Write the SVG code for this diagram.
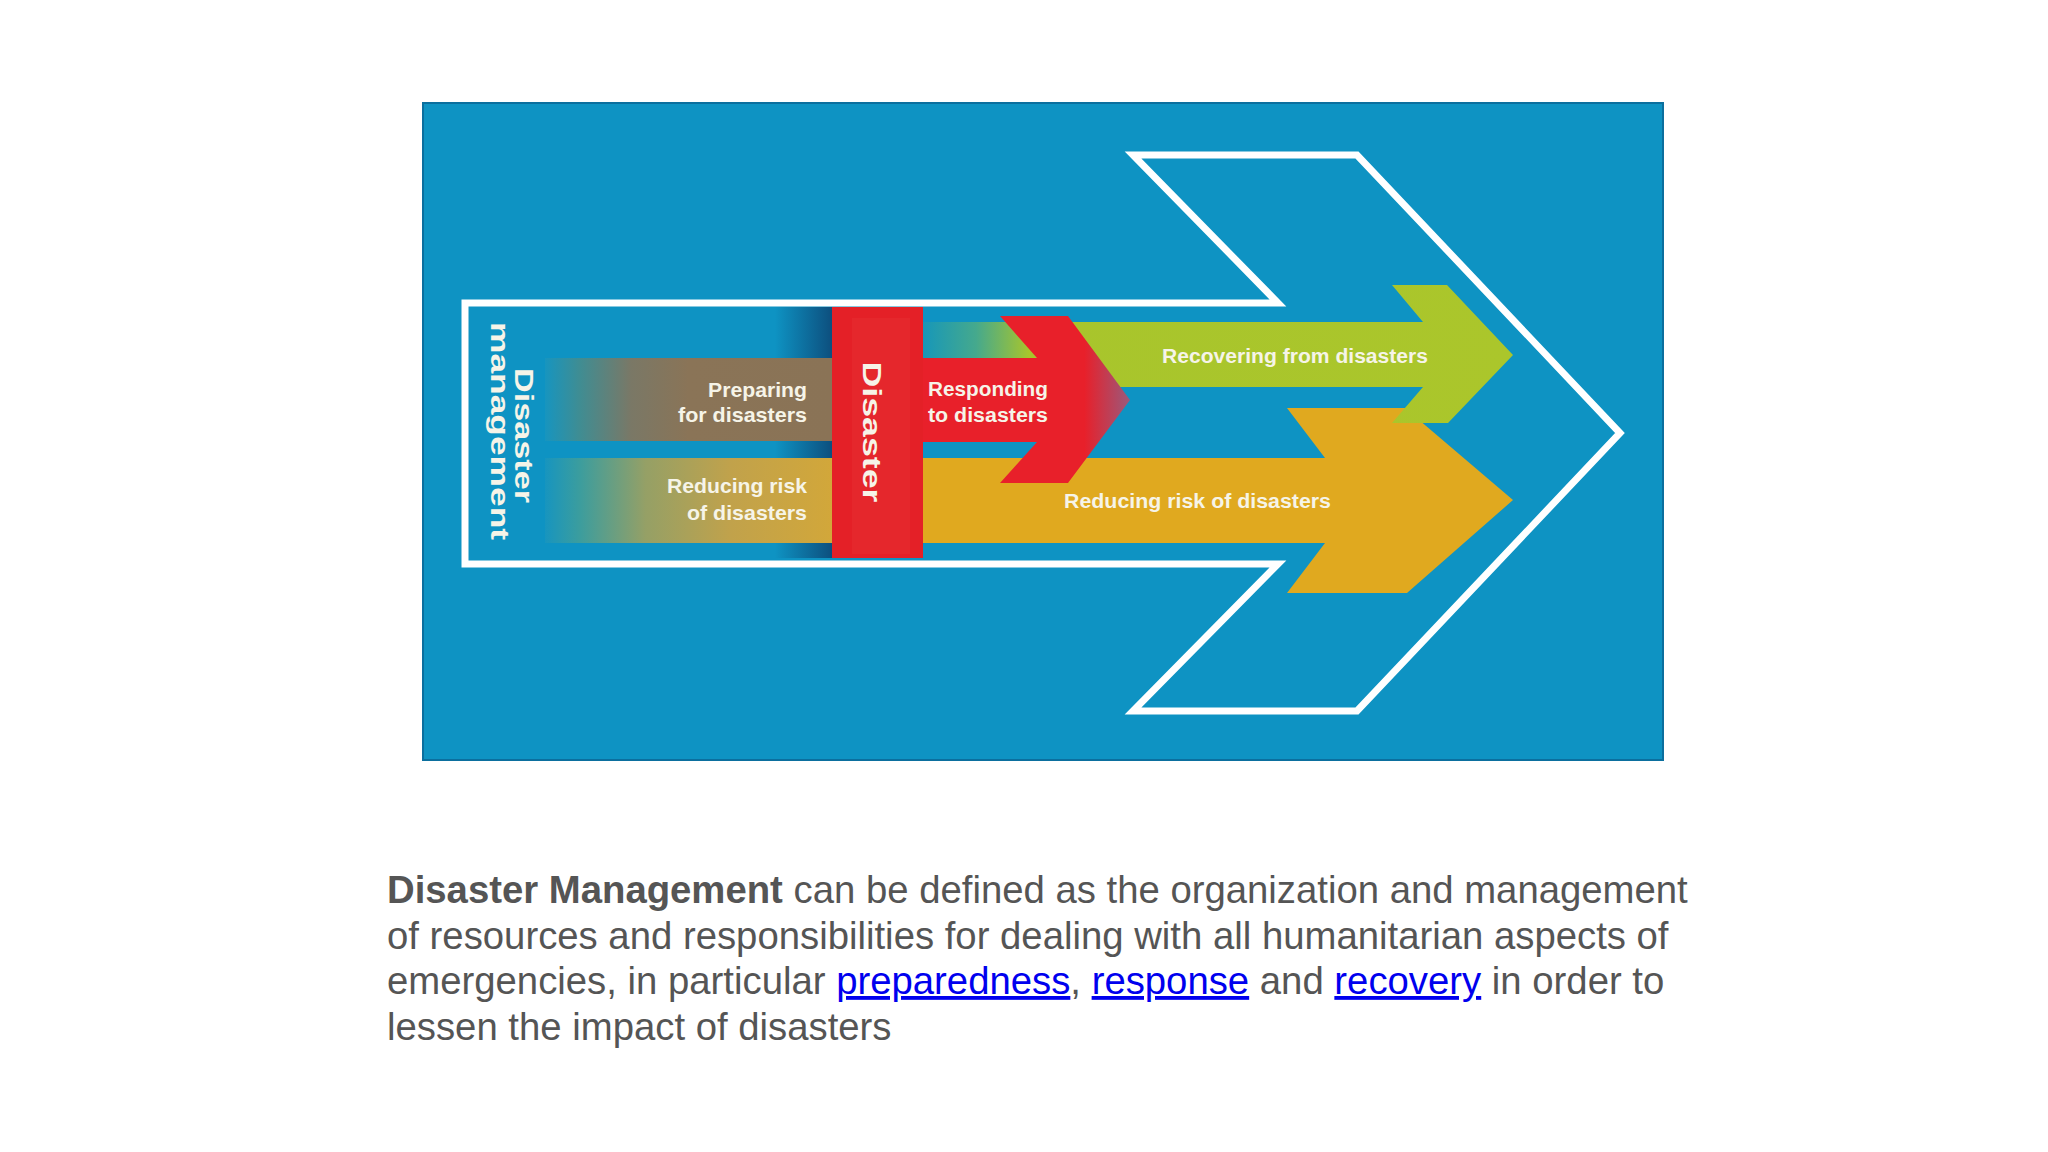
<svg xmlns="http://www.w3.org/2000/svg" width="2048" height="1152" viewBox="0 0 2048 1152">
  <defs>
    <style>
      .lbl { font-family: "Liberation Sans", Arial, sans-serif; font-weight: bold; fill: #f6f4e8; }
      .para { font-family: "Liberation Sans", Arial, sans-serif; font-size: 38.3px; fill: #555555; }
      .link { fill: #0000ee; text-decoration: underline; }
    </style>
    <linearGradient id="gBrown" x1="545" y1="0" x2="832" y2="0" gradientUnits="userSpaceOnUse">
      <stop offset="0" stop-color="#1795bf"/>
      <stop offset="0.12" stop-color="#3f8d93"/>
      <stop offset="0.3" stop-color="#7a7866"/>
      <stop offset="0.5" stop-color="#8a7457"/>
      <stop offset="1" stop-color="#8a7356"/>
    </linearGradient>
    <linearGradient id="gYellow" x1="545" y1="0" x2="832" y2="0" gradientUnits="userSpaceOnUse">
      <stop offset="0" stop-color="#1795bf"/>
      <stop offset="0.12" stop-color="#3b9d9e"/>
      <stop offset="0.35" stop-color="#95a066"/>
      <stop offset="0.65" stop-color="#c1a24b"/>
      <stop offset="1" stop-color="#d2a73a"/>
    </linearGradient>
    <linearGradient id="gDark" x1="775" y1="0" x2="832" y2="0" gradientUnits="userSpaceOnUse">
      <stop offset="0" stop-color="#0e93c3"/>
      <stop offset="1" stop-color="#0d4f7e"/>
    </linearGradient>
    <linearGradient id="gGreen" x1="923" y1="0" x2="1513" y2="0" gradientUnits="userSpaceOnUse">
      <stop offset="0" stop-color="#1797b9"/>
      <stop offset="0.09" stop-color="#45a98d"/>
      <stop offset="0.18" stop-color="#a8c52c"/>
      <stop offset="1" stop-color="#abc62b"/>
    </linearGradient>
    <linearGradient id="gRed" x1="923" y1="0" x2="1130" y2="0" gradientUnits="userSpaceOnUse">
      <stop offset="0" stop-color="#e8202a"/>
      <stop offset="0.78" stop-color="#e8202a"/>
      <stop offset="1" stop-color="#9a5a7c"/>
    </linearGradient>
  </defs>

  <rect x="0" y="0" width="2048" height="1152" fill="#ffffff"/>

  <g id="panel">
    <rect x="423" y="103" width="1240" height="657" fill="#0e93c3" stroke="#0b6f9e" stroke-width="2"/>
  </g>

  <g id="outline-arrow">
    <polygon points="465,303 1278,303 1133,155 1357,155 1620,433 1357,711 1133,711 1278,564 465,564" fill="none" stroke="#ffffff" stroke-width="7" stroke-linejoin="miter"/>
    <rect x="775" y="307" width="57" height="251" fill="url(#gDark)"/>
  </g>

  <g id="band-preparing">
    <rect x="545" y="358" width="287" height="83" fill="url(#gBrown)"/>
    <text class="lbl" font-size="21" x="708" y="397" textLength="99" lengthAdjust="spacingAndGlyphs">Preparing</text>
    <text class="lbl" font-size="21" x="678" y="422" textLength="129" lengthAdjust="spacingAndGlyphs">for disasters</text>
  </g>

  <g id="band-reducing">
    <rect x="545" y="458" width="287" height="85" fill="url(#gYellow)"/>
    <text class="lbl" font-size="21" x="667" y="493" textLength="140" lengthAdjust="spacingAndGlyphs">Reducing risk</text>
    <text class="lbl" font-size="21" x="687" y="520" textLength="120" lengthAdjust="spacingAndGlyphs">of disasters</text>
  </g>

  <g id="arrow-reducing-risk">
    <polygon points="923,458 1325,458 1287,408 1405,408 1513,500 1407,593 1287,593 1325,543 923,543" fill="#e0a91f"/>
    <text class="lbl" font-size="20" x="1064" y="508" textLength="267" lengthAdjust="spacingAndGlyphs">Reducing risk of disasters</text>
  </g>

  <g id="arrow-recovering">
    <polygon points="923,322 1423,322 1392,285 1447,285 1513,355 1448,423 1392,423 1423,387 923,387" fill="url(#gGreen)"/>
    <text class="lbl" font-size="20" x="1162" y="363" textLength="266" lengthAdjust="spacingAndGlyphs">Recovering from disasters</text>
  </g>

  <g id="arrow-responding">
    <polygon points="923,358 1037,358 1000,316 1068,316 1130,400 1068,483 1000,483 1037,442 923,442" fill="url(#gRed)"/>
    <text class="lbl" font-size="20" x="928" y="396" textLength="120" lengthAdjust="spacingAndGlyphs">Responding</text>
    <text class="lbl" font-size="20" x="928" y="422" textLength="120" lengthAdjust="spacingAndGlyphs">to disasters</text>
  </g>

  <g id="disaster-bar">
    <rect x="832" y="307" width="91" height="251" fill="#e42027"/>
    <rect x="852" y="318" width="58" height="236" fill="#f36a5c" opacity="0.1"/>
    <text class="lbl" font-size="26" transform="translate(863,361.5) rotate(90)" x="0" y="0" textLength="141" lengthAdjust="spacingAndGlyphs">Disaster</text>
  </g>

  <g id="title-vertical">
    <text class="lbl" font-size="25" transform="translate(515,368) rotate(90)" x="0" y="0" textLength="135" lengthAdjust="spacingAndGlyphs">Disaster</text>
    <text class="lbl" font-size="26" transform="translate(491,322) rotate(90)" x="0" y="0" textLength="218" lengthAdjust="spacingAndGlyphs">management</text>
  </g>

  <g id="connectors"></g>

  <g id="definition">
    <text class="para" x="387" y="903"><tspan font-weight="bold">Disaster Management</tspan> can be defined as the organization and management</text>
    <text class="para" x="387" y="948.5">of resources and responsibilities for dealing with all humanitarian aspects of</text>
    <text class="para" x="387" y="994">emergencies, in particular <tspan class="link">preparedness</tspan>, <tspan class="link">response</tspan> and <tspan class="link">recovery</tspan> in order to</text>
    <text class="para" x="387" y="1039.5">lessen the impact of disasters</text>
  </g>
</svg>
